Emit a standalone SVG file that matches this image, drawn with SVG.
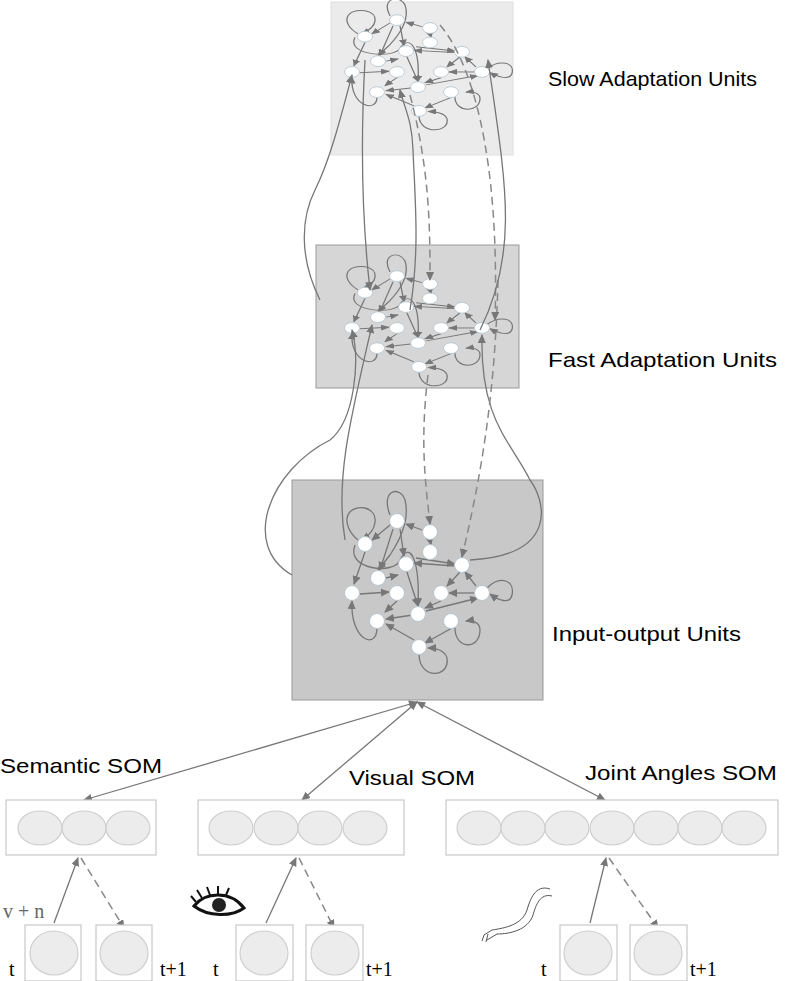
<svg xmlns="http://www.w3.org/2000/svg" xmlns:xlink="http://www.w3.org/1999/xlink" width="785" height="981" viewBox="0 0 785 981">
<style>
.lbl{font-family:"Liberation Sans",Arial,sans-serif;font-size:21px;fill:#000}
.tm{font-family:"Liberation Serif","Times New Roman",serif;font-size:20px;fill:#000}
.e{stroke:#777;stroke-width:1.3;fill:none;marker-end:url(#ah)}
.d{stroke:#888;stroke-width:1.5;fill:none;stroke-dasharray:8,5;marker-end:url(#ah)}
.n{fill:#fff;stroke:#b8c4cc;stroke-width:1}
.som{fill:#ececec;stroke:#cfcfcf;stroke-width:1.2}
.bx{fill:#fff;stroke:#c8c8c8;stroke-width:1.2}
</style>
<defs>
<marker id="ah" markerWidth="10" markerHeight="10" refX="8" refY="4" orient="auto" markerUnits="userSpaceOnUse"><path d="M0,0 L9,4 L0,8 z" fill="#777"/></marker>
<marker id="as" markerWidth="10" markerHeight="10" refX="1" refY="4" orient="auto" markerUnits="userSpaceOnUse"><path d="M9,0 L0,4 L9,8 z" fill="#777"/></marker>
<g id="net">
<path class="e" d="M390,525 L372,540"/>
<path class="e" d="M422,530 L406,524"/>
<path class="e" d="M365,552 L354,584"/>
<path class="e" d="M393,529 L380,570"/>
<path class="e" d="M400,529 L404,556"/>
<path class="e" d="M360,594 L389,592"/>
<path class="e" d="M454,566 L414,563"/>
<path class="e" d="M460,572 L447,586"/>
<path class="e" d="M474,593 L449,593"/>
<path class="e" d="M476,586 L465,572"/>
<path class="e" d="M413,615 L386,619"/>
<path class="e" d="M405,566 L418,606"/>
<path class="e" d="M426,611 L478,598"/>
<path class="e" d="M414,640 L386,624"/>
<path class="e" d="M452,628 L425,643"/>
<path class="e" d="M416,558 L455,564"/>
<path class="e" d="M398,600 L385,612"/>
<path class="e" d="M386,578 L398,575"/>
<path class="e" d="M430,540 L431,545"/>
<path class="e" d="M441,601 L425,608"/>
<path class="e" d="M358,540 C340,525 345,505 365,508 C380,512 378,530 362,540"/>
<path class="e" d="M390,515 C380,490 400,485 405,500 C410,520 400,540 390,555 L378,570"/>
<path class="e" d="M487,588 C500,575 515,580 512,595 C510,605 498,600 490,594"/>
<path class="e" d="M455,628 C455,650 480,650 480,630 C480,622 472,620 466,621"/>
<path class="e" d="M419,655 C420,680 450,678 447,658 C445,650 435,648 428,648"/>
<path class="e" d="M377,629 C376,650 350,640 352,601"/>
<path class="e" d="M355,545 C345,570 395,575 400,560 C410,540 420,560 418,606"/>
<circle class="n" cx="397" cy="521" r="7.5"/><circle class="n" cx="430" cy="532" r="7.5"/>
<circle class="n" cx="365" cy="544" r="7.5"/><circle class="n" cx="430" cy="552" r="7.5"/>
<circle class="n" cx="406" cy="564" r="7.5"/><circle class="n" cx="462" cy="565" r="7.5"/>
<circle class="n" cx="378" cy="578" r="7.5"/><circle class="n" cx="397" cy="593" r="7.5"/>
<circle class="n" cx="352" cy="593" r="7.5"/><circle class="n" cx="441" cy="593" r="7.5"/>
<circle class="n" cx="482" cy="593" r="7.5"/><circle class="n" cx="418" cy="614" r="7.5"/>
<circle class="n" cx="377" cy="621" r="7.5"/><circle class="n" cx="451" cy="621" r="7.5"/>
<circle class="n" cx="419" cy="647" r="7.5"/>
</g>
</defs>
<g id="slow"><rect x="331" y="2" width="182" height="153" fill="#ebebeb" stroke="#e0e0e0"/><use xlink:href="#net" href="#net" transform="translate(0,-355) scale(1,0.72)"/></g>
<g id="fast"><rect x="316" y="245" width="203" height="143" fill="#d6d6d6" stroke="#999"/><use xlink:href="#net" href="#net" transform="translate(0,-99) scale(1,0.72)"/></g>
<g id="io"><rect x="292" y="480" width="251" height="220" fill="#c8c8c8" stroke="#999"/><use xlink:href="#net" href="#net"/></g>
<g id="connectors">
<path class="e" d="M292,575 C240,545 270,470 330,440 C355,420 360,360 352,330"/>
<path class="e" d="M345,540 C335,480 350,420 372,325"/>
<path class="e" d="M470,560 C560,555 545,500 530,480 C510,440 480,420 482,335"/>
<path class="d" d="M428,375 C420,440 425,480 430,524"/>
<path class="d" d="M498,280 C495,400 480,480 462,557"/>
<path class="e" d="M320,300 C300,260 300,220 315,190 C330,160 340,120 352,75"/>
<path class="e" d="M365,60 C360,150 362,220 370,290"/>
<path class="e" d="M410,310 C420,250 415,200 413,150 C412,120 405,110 400,90"/>
<path class="d" d="M410,95 C430,170 430,230 430,280"/>
<path class="d" d="M440,25 C470,60 500,150 495,320"/>
<path class="e" d="M480,330 C520,250 505,180 488,60"/>
<line x1="417" y1="702" x2="84" y2="800" stroke="#777" stroke-width="1.3" marker-start="url(#as)" marker-end="url(#ah)"/>
<line x1="417" y1="702" x2="302" y2="800" stroke="#777" stroke-width="1.3" marker-start="url(#as)" marker-end="url(#ah)"/>
<line x1="417" y1="702" x2="605" y2="800" stroke="#777" stroke-width="1.3" marker-start="url(#as)" marker-end="url(#ah)"/>
<path class="e" d="M54,923 L78,858"/><path class="d" d="M81,858 L124,928"/>
<path class="e" d="M266,923 L296,858"/><path class="d" d="M299,858 L334,928"/>
<path class="e" d="M590,923 L606,858"/><path class="d" d="M609,858 L658,928"/>
</g>
<g id="semantic"><rect class="bx" x="6" y="800" width="150" height="55"/>
<ellipse class="som" cx="40" cy="828" rx="22" ry="17"/><ellipse class="som" cx="84" cy="828" rx="22" ry="17"/><ellipse class="som" cx="128" cy="828" rx="22" ry="17"/></g>
<g id="visual"><rect class="bx" x="198" y="800" width="206" height="55"/>
<ellipse class="som" cx="231" cy="828" rx="22" ry="17"/><ellipse class="som" cx="276" cy="828" rx="22" ry="17"/><ellipse class="som" cx="320" cy="828" rx="22" ry="17"/><ellipse class="som" cx="365" cy="828" rx="22" ry="17"/></g>
<g id="joint"><rect class="bx" x="446" y="800" width="332" height="55"/>
<ellipse class="som" cx="479" cy="828" rx="22" ry="17"/><ellipse class="som" cx="523" cy="828" rx="22" ry="17"/><ellipse class="som" cx="567" cy="828" rx="22" ry="17"/><ellipse class="som" cx="612" cy="828" rx="22" ry="17"/><ellipse class="som" cx="656" cy="828" rx="22" ry="17"/><ellipse class="som" cx="700" cy="828" rx="22" ry="17"/><ellipse class="som" cx="744" cy="828" rx="22" ry="17"/></g>
<g id="inputs">
<rect class="bx" x="25" y="925" width="56" height="56"/><ellipse class="som" cx="54" cy="953" rx="24" ry="22"/>
<rect class="bx" x="96" y="925" width="56" height="56"/><ellipse class="som" cx="124" cy="953" rx="24" ry="22"/>
<rect class="bx" x="236" y="925" width="57" height="56"/><ellipse class="som" cx="264" cy="953" rx="24" ry="22"/>
<rect class="bx" x="306" y="925" width="57" height="56"/><ellipse class="som" cx="335" cy="953" rx="24" ry="22"/>
<rect class="bx" x="560" y="925" width="57" height="56"/><ellipse class="som" cx="588" cy="953" rx="24" ry="22"/>
<rect class="bx" x="630" y="925" width="57" height="56"/><ellipse class="som" cx="658" cy="953" rx="24" ry="22"/>
</g>
<g id="eye">
<path d="M194,906 C205,892 230,890 244,908 C232,917 208,917 194,906 z" fill="#fff" stroke="#111" stroke-width="3"/>
<circle cx="219" cy="905" r="7" fill="#222"/>
<path d="M196,902 L191,896 M202,898 L197,890 M210,895 L207,887 M218,894 L218,886 M226,895 L229,888" stroke="#111" stroke-width="2"/>
</g>
<g id="arm" fill="none" stroke="#555" stroke-width="1">
<path d="M550,889 C535,884 530,900 527,910 C522,925 505,928 492,930 L484,935 M552,896 C540,893 536,905 533,915 C528,930 510,934 497,934 L487,940 M484,935 L482,941 M488,934 L486,942"/>
</g>
<g id="labels">
<text class="lbl" x="548" y="86" textLength="209" lengthAdjust="spacingAndGlyphs">Slow Adaptation Units</text>
<text class="lbl" x="548" y="367" textLength="229" lengthAdjust="spacingAndGlyphs">Fast Adaptation Units</text>
<text class="lbl" x="552" y="641" textLength="189" lengthAdjust="spacingAndGlyphs">Input-output Units</text>
<text class="lbl" x="0" y="773" textLength="162" lengthAdjust="spacingAndGlyphs">Semantic SOM</text>
<text class="lbl" x="349" y="785" textLength="126" lengthAdjust="spacingAndGlyphs">Visual SOM</text>
<text class="lbl" x="585" y="780" textLength="192" lengthAdjust="spacingAndGlyphs">Joint Angles SOM</text>
<text class="tm" x="3" y="918" style="fill:#666">v + n</text>
<text class="tm" x="9" y="976">t</text><text class="tm" x="160" y="976">t+1</text>
<text class="tm" x="213" y="976">t</text><text class="tm" x="366" y="976">t+1</text>
<text class="tm" x="541" y="976">t</text><text class="tm" x="690" y="976">t+1</text>
</g>
</svg>
